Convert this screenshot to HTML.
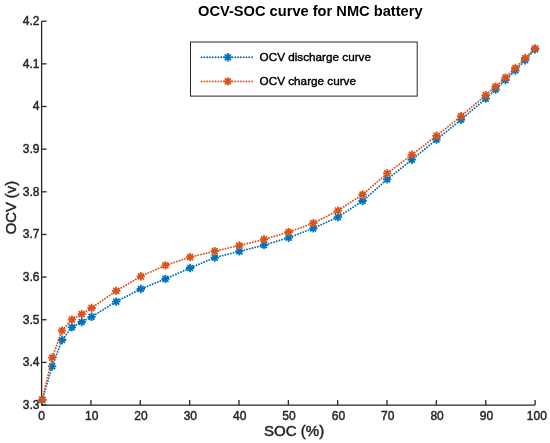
<!DOCTYPE html>
<html><head><meta charset="utf-8"><title>OCV-SOC curve for NMC battery</title>
<style>html,body{margin:0;padding:0;background:#fff;overflow:hidden}</style></head>
<body>
<svg width="550" height="443" viewBox="0 0 550 443" style="display:block">
<rect width="550" height="443" fill="#fff"/>
<g stroke="#262626" stroke-width="1.3" fill="none">
<path d="M41.6 21.2V405.05H535.1"/>
<path d="M41.60 405.05v-5"/>
<path d="M90.95 405.05v-5"/>
<path d="M140.30 405.05v-5"/>
<path d="M189.65 405.05v-5"/>
<path d="M239.00 405.05v-5"/>
<path d="M288.35 405.05v-5"/>
<path d="M337.70 405.05v-5"/>
<path d="M387.05 405.05v-5"/>
<path d="M436.40 405.05v-5"/>
<path d="M485.75 405.05v-5"/>
<path d="M535.10 405.05v-5"/>
<path d="M41.6 405.05h5"/>
<path d="M41.6 362.40h5"/>
<path d="M41.6 319.75h5"/>
<path d="M41.6 277.10h5"/>
<path d="M41.6 234.45h5"/>
<path d="M41.6 191.80h5"/>
<path d="M41.6 149.15h5"/>
<path d="M41.6 106.50h5"/>
<path d="M41.6 63.85h5"/>
<path d="M41.6 21.20h5"/>
</g>
<g font-family="'Liberation Sans', Arial, Helvetica, sans-serif" font-size="12px" fill="#262626" stroke="#262626" stroke-width="0.45">
<text x="41.70" y="419.6" text-anchor="middle">0</text>
<text x="91.65" y="419.6" text-anchor="middle">10</text>
<text x="141.00" y="419.6" text-anchor="middle">20</text>
<text x="190.35" y="419.6" text-anchor="middle">30</text>
<text x="239.70" y="419.6" text-anchor="middle">40</text>
<text x="289.05" y="419.6" text-anchor="middle">50</text>
<text x="338.40" y="419.6" text-anchor="middle">60</text>
<text x="387.75" y="419.6" text-anchor="middle">70</text>
<text x="437.10" y="419.6" text-anchor="middle">80</text>
<text x="486.45" y="419.6" text-anchor="middle">90</text>
<text x="536.80" y="419.6" text-anchor="middle">100</text>
<text x="39.4" y="408.95" text-anchor="end">3.3</text>
<text x="39.4" y="366.30" text-anchor="end">3.4</text>
<text x="39.4" y="323.65" text-anchor="end">3.5</text>
<text x="39.4" y="281.00" text-anchor="end">3.6</text>
<text x="39.4" y="238.35" text-anchor="end">3.7</text>
<text x="39.4" y="195.70" text-anchor="end">3.8</text>
<text x="39.4" y="153.05" text-anchor="end">3.9</text>
<text x="39.4" y="110.40" text-anchor="end">4</text>
<text x="39.4" y="67.75" text-anchor="end">4.1</text>
<text x="39.4" y="25.10" text-anchor="end">4.2</text>
</g>
<g font-family="'Liberation Sans', Arial, Helvetica, sans-serif" fill="#262626">
<text x="264.0" y="436.0" font-size="13.8px" textLength="60.2" lengthAdjust="spacingAndGlyphs" stroke="#262626" stroke-width="0.45">SOC (%)</text>
<text transform="translate(15.9 234.3) rotate(-90)" font-size="13.8px" textLength="53.4" lengthAdjust="spacingAndGlyphs" stroke="#262626" stroke-width="0.45">OCV (v)</text>
<text x="198.0" y="16.4" font-size="13.8px" font-weight="bold" fill="#000" textLength="224.6" lengthAdjust="spacingAndGlyphs">OCV-SOC curve for NMC battery</text>
</g>
<polyline points="42.30,399.80 52.15,366.40 62.01,340.00 71.86,327.40 81.72,322.00 91.57,316.80 116.20,301.60 140.84,289.00 165.47,278.90 190.11,268.00 214.75,257.60 239.38,251.40 264.01,245.10 288.65,237.70 313.28,228.30 337.92,217.10 362.56,201.00 387.19,179.30 411.82,159.70 436.46,139.60 461.09,119.70 485.73,98.60 495.58,89.50 505.44,80.00 515.29,70.50 525.15,60.20 535.00,49.30" fill="none" stroke="#0072BD" stroke-width="1.9" stroke-linecap="round" stroke-dasharray="0.01 2.79"/>
<path d="M38.10 399.80H46.50M42.30 395.60V404.00M39.33 396.83L45.27 402.77M39.33 402.77L45.27 396.83" stroke="#0072BD" stroke-width="1.8" fill="none"/>
<path d="M47.95 366.40H56.35M52.15 362.20V370.60M49.18 363.43L55.12 369.37M49.18 369.37L55.12 363.43" stroke="#0072BD" stroke-width="1.8" fill="none"/>
<path d="M57.81 340.00H66.21M62.01 335.80V344.20M59.04 337.03L64.98 342.97M59.04 342.97L64.98 337.03" stroke="#0072BD" stroke-width="1.8" fill="none"/>
<path d="M67.66 327.40H76.06M71.86 323.20V331.60M68.89 324.43L74.83 330.37M68.89 330.37L74.83 324.43" stroke="#0072BD" stroke-width="1.8" fill="none"/>
<path d="M77.52 322.00H85.92M81.72 317.80V326.20M78.75 319.03L84.69 324.97M78.75 324.97L84.69 319.03" stroke="#0072BD" stroke-width="1.8" fill="none"/>
<path d="M87.37 316.80H95.77M91.57 312.60V321.00M88.60 313.83L94.54 319.77M88.60 319.77L94.54 313.83" stroke="#0072BD" stroke-width="1.8" fill="none"/>
<path d="M112.00 301.60H120.41M116.20 297.40V305.80M113.24 298.63L119.17 304.57M113.24 304.57L119.17 298.63" stroke="#0072BD" stroke-width="1.8" fill="none"/>
<path d="M136.64 289.00H145.04M140.84 284.80V293.20M137.87 286.03L143.81 291.97M137.87 291.97L143.81 286.03" stroke="#0072BD" stroke-width="1.8" fill="none"/>
<path d="M161.27 278.90H169.67M165.47 274.70V283.10M162.51 275.93L168.44 281.87M162.51 281.87L168.44 275.93" stroke="#0072BD" stroke-width="1.8" fill="none"/>
<path d="M185.91 268.00H194.31M190.11 263.80V272.20M187.14 265.03L193.08 270.97M187.14 270.97L193.08 265.03" stroke="#0072BD" stroke-width="1.8" fill="none"/>
<path d="M210.55 257.60H218.94M214.75 253.40V261.80M211.78 254.63L217.71 260.57M211.78 260.57L217.71 254.63" stroke="#0072BD" stroke-width="1.8" fill="none"/>
<path d="M235.18 251.40H243.58M239.38 247.20V255.60M236.41 248.43L242.35 254.37M236.41 254.37L242.35 248.43" stroke="#0072BD" stroke-width="1.8" fill="none"/>
<path d="M259.81 245.10H268.21M264.01 240.90V249.30M261.05 242.13L266.98 248.07M261.05 248.07L266.98 242.13" stroke="#0072BD" stroke-width="1.8" fill="none"/>
<path d="M284.45 237.70H292.85M288.65 233.50V241.90M285.68 234.73L291.62 240.67M285.68 240.67L291.62 234.73" stroke="#0072BD" stroke-width="1.8" fill="none"/>
<path d="M309.08 228.30H317.48M313.28 224.10V232.50M310.32 225.33L316.25 231.27M310.32 231.27L316.25 225.33" stroke="#0072BD" stroke-width="1.8" fill="none"/>
<path d="M333.72 217.10H342.12M337.92 212.90V221.30M334.95 214.13L340.89 220.07M334.95 220.07L340.89 214.13" stroke="#0072BD" stroke-width="1.8" fill="none"/>
<path d="M358.36 201.00H366.75M362.56 196.80V205.20M359.59 198.03L365.52 203.97M359.59 203.97L365.52 198.03" stroke="#0072BD" stroke-width="1.8" fill="none"/>
<path d="M382.99 179.30H391.39M387.19 175.10V183.50M384.22 176.33L390.16 182.27M384.22 182.27L390.16 176.33" stroke="#0072BD" stroke-width="1.8" fill="none"/>
<path d="M407.62 159.70H416.02M411.82 155.50V163.90M408.86 156.73L414.79 162.67M408.86 162.67L414.79 156.73" stroke="#0072BD" stroke-width="1.8" fill="none"/>
<path d="M432.26 139.60H440.66M436.46 135.40V143.80M433.49 136.63L439.43 142.57M433.49 142.57L439.43 136.63" stroke="#0072BD" stroke-width="1.8" fill="none"/>
<path d="M456.89 119.70H465.29M461.09 115.50V123.90M458.13 116.73L464.06 122.67M458.13 122.67L464.06 116.73" stroke="#0072BD" stroke-width="1.8" fill="none"/>
<path d="M481.53 98.60H489.93M485.73 94.40V102.80M482.76 95.63L488.70 101.57M482.76 101.57L488.70 95.63" stroke="#0072BD" stroke-width="1.8" fill="none"/>
<path d="M491.38 89.50H499.78M495.58 85.30V93.70M492.61 86.53L498.55 92.47M492.61 92.47L498.55 86.53" stroke="#0072BD" stroke-width="1.8" fill="none"/>
<path d="M501.24 80.00H509.64M505.44 75.80V84.20M502.47 77.03L508.41 82.97M502.47 82.97L508.41 77.03" stroke="#0072BD" stroke-width="1.8" fill="none"/>
<path d="M511.09 70.50H519.49M515.29 66.30V74.70M512.32 67.53L518.26 73.47M512.32 73.47L518.26 67.53" stroke="#0072BD" stroke-width="1.8" fill="none"/>
<path d="M520.95 60.20H529.35M525.15 56.00V64.40M522.18 57.23L528.12 63.17M522.18 63.17L528.12 57.23" stroke="#0072BD" stroke-width="1.8" fill="none"/>
<path d="M530.80 49.30H539.20M535.00 45.10V53.50M532.03 46.33L537.97 52.27M532.03 52.27L537.97 46.33" stroke="#0072BD" stroke-width="1.8" fill="none"/>
<polyline points="42.30,399.70 52.15,357.60 62.01,330.60 71.86,319.60 81.72,314.10 91.57,308.00 116.20,290.90 140.84,276.30 165.47,265.40 190.11,257.10 214.75,251.20 239.38,245.50 264.01,239.40 288.65,232.00 313.28,223.20 337.92,210.60 362.56,194.50 387.19,173.40 411.82,154.80 436.46,135.80 461.09,116.20 485.73,95.20 495.58,86.60 505.44,77.60 515.29,68.00 525.15,58.00 535.00,48.40" fill="none" stroke="#D95319" stroke-width="1.9" stroke-linecap="round" stroke-dasharray="0.01 2.79"/>
<path d="M38.10 399.70H46.50M42.30 395.50V403.90M39.33 396.73L45.27 402.67M39.33 402.67L45.27 396.73" stroke="#D95319" stroke-width="1.8" fill="none"/>
<path d="M47.95 357.60H56.35M52.15 353.40V361.80M49.18 354.63L55.12 360.57M49.18 360.57L55.12 354.63" stroke="#D95319" stroke-width="1.8" fill="none"/>
<path d="M57.81 330.60H66.21M62.01 326.40V334.80M59.04 327.63L64.98 333.57M59.04 333.57L64.98 327.63" stroke="#D95319" stroke-width="1.8" fill="none"/>
<path d="M67.66 319.60H76.06M71.86 315.40V323.80M68.89 316.63L74.83 322.57M68.89 322.57L74.83 316.63" stroke="#D95319" stroke-width="1.8" fill="none"/>
<path d="M77.52 314.10H85.92M81.72 309.90V318.30M78.75 311.13L84.69 317.07M78.75 317.07L84.69 311.13" stroke="#D95319" stroke-width="1.8" fill="none"/>
<path d="M87.37 308.00H95.77M91.57 303.80V312.20M88.60 305.03L94.54 310.97M88.60 310.97L94.54 305.03" stroke="#D95319" stroke-width="1.8" fill="none"/>
<path d="M112.00 290.90H120.41M116.20 286.70V295.10M113.24 287.93L119.17 293.87M113.24 293.87L119.17 287.93" stroke="#D95319" stroke-width="1.8" fill="none"/>
<path d="M136.64 276.30H145.04M140.84 272.10V280.50M137.87 273.33L143.81 279.27M137.87 279.27L143.81 273.33" stroke="#D95319" stroke-width="1.8" fill="none"/>
<path d="M161.27 265.40H169.67M165.47 261.20V269.60M162.51 262.43L168.44 268.37M162.51 268.37L168.44 262.43" stroke="#D95319" stroke-width="1.8" fill="none"/>
<path d="M185.91 257.10H194.31M190.11 252.90V261.30M187.14 254.13L193.08 260.07M187.14 260.07L193.08 254.13" stroke="#D95319" stroke-width="1.8" fill="none"/>
<path d="M210.55 251.20H218.94M214.75 247.00V255.40M211.78 248.23L217.71 254.17M211.78 254.17L217.71 248.23" stroke="#D95319" stroke-width="1.8" fill="none"/>
<path d="M235.18 245.50H243.58M239.38 241.30V249.70M236.41 242.53L242.35 248.47M236.41 248.47L242.35 242.53" stroke="#D95319" stroke-width="1.8" fill="none"/>
<path d="M259.81 239.40H268.21M264.01 235.20V243.60M261.05 236.43L266.98 242.37M261.05 242.37L266.98 236.43" stroke="#D95319" stroke-width="1.8" fill="none"/>
<path d="M284.45 232.00H292.85M288.65 227.80V236.20M285.68 229.03L291.62 234.97M285.68 234.97L291.62 229.03" stroke="#D95319" stroke-width="1.8" fill="none"/>
<path d="M309.08 223.20H317.48M313.28 219.00V227.40M310.32 220.23L316.25 226.17M310.32 226.17L316.25 220.23" stroke="#D95319" stroke-width="1.8" fill="none"/>
<path d="M333.72 210.60H342.12M337.92 206.40V214.80M334.95 207.63L340.89 213.57M334.95 213.57L340.89 207.63" stroke="#D95319" stroke-width="1.8" fill="none"/>
<path d="M358.36 194.50H366.75M362.56 190.30V198.70M359.59 191.53L365.52 197.47M359.59 197.47L365.52 191.53" stroke="#D95319" stroke-width="1.8" fill="none"/>
<path d="M382.99 173.40H391.39M387.19 169.20V177.60M384.22 170.43L390.16 176.37M384.22 176.37L390.16 170.43" stroke="#D95319" stroke-width="1.8" fill="none"/>
<path d="M407.62 154.80H416.02M411.82 150.60V159.00M408.86 151.83L414.79 157.77M408.86 157.77L414.79 151.83" stroke="#D95319" stroke-width="1.8" fill="none"/>
<path d="M432.26 135.80H440.66M436.46 131.60V140.00M433.49 132.83L439.43 138.77M433.49 138.77L439.43 132.83" stroke="#D95319" stroke-width="1.8" fill="none"/>
<path d="M456.89 116.20H465.29M461.09 112.00V120.40M458.13 113.23L464.06 119.17M458.13 119.17L464.06 113.23" stroke="#D95319" stroke-width="1.8" fill="none"/>
<path d="M481.53 95.20H489.93M485.73 91.00V99.40M482.76 92.23L488.70 98.17M482.76 98.17L488.70 92.23" stroke="#D95319" stroke-width="1.8" fill="none"/>
<path d="M491.38 86.60H499.78M495.58 82.40V90.80M492.61 83.63L498.55 89.57M492.61 89.57L498.55 83.63" stroke="#D95319" stroke-width="1.8" fill="none"/>
<path d="M501.24 77.60H509.64M505.44 73.40V81.80M502.47 74.63L508.41 80.57M502.47 80.57L508.41 74.63" stroke="#D95319" stroke-width="1.8" fill="none"/>
<path d="M511.09 68.00H519.49M515.29 63.80V72.20M512.32 65.03L518.26 70.97M512.32 70.97L518.26 65.03" stroke="#D95319" stroke-width="1.8" fill="none"/>
<path d="M520.95 58.00H529.35M525.15 53.80V62.20M522.18 55.03L528.12 60.97M522.18 60.97L528.12 55.03" stroke="#D95319" stroke-width="1.8" fill="none"/>
<path d="M530.80 48.40H539.20M535.00 44.20V52.60M532.03 45.43L537.97 51.37M532.03 51.37L537.97 45.43" stroke="#D95319" stroke-width="1.8" fill="none"/>
<rect x="190.5" y="42" width="226.7" height="54.1" fill="#fff" stroke="#262626" stroke-width="1"/>
<path d="M201.6 57.3H252.6" stroke="#0072BD" stroke-width="1.9" stroke-linecap="round" stroke-dasharray="0.01 2.79" fill="none"/>
<path d="M223.60 57.30H232.00M227.80 53.10V61.50M224.83 54.33L230.77 60.27M224.83 60.27L230.77 54.33" stroke="#0072BD" stroke-width="1.8" fill="none"/>
<text x="259.6" y="61.00" font-family="'Liberation Sans', Arial, Helvetica, sans-serif" font-size="11.72px" fill="#000" stroke="#000" stroke-width="0.4">OCV discharge curve</text>
<path d="M201.6 81.4H252.6" stroke="#D95319" stroke-width="1.9" stroke-linecap="round" stroke-dasharray="0.01 2.79" fill="none"/>
<path d="M223.60 81.40H232.00M227.80 77.20V85.60M224.83 78.43L230.77 84.37M224.83 84.37L230.77 78.43" stroke="#D95319" stroke-width="1.8" fill="none"/>
<text x="259.6" y="85.10" font-family="'Liberation Sans', Arial, Helvetica, sans-serif" font-size="11.72px" fill="#000" stroke="#000" stroke-width="0.4">OCV charge curve</text>
</svg>
</body></html>
